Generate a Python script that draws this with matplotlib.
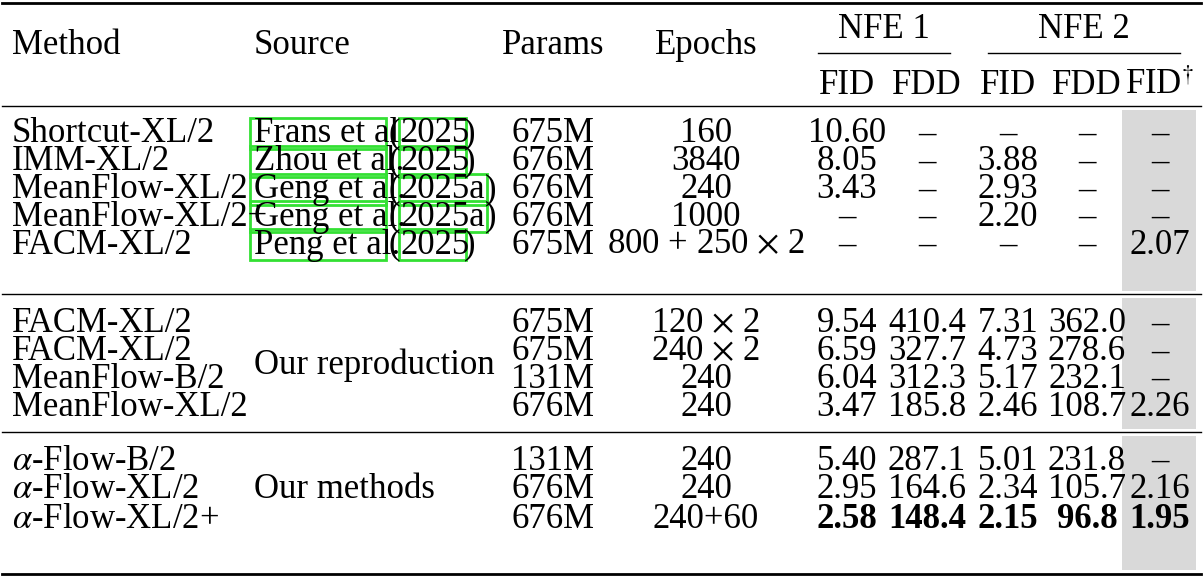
import matplotlib.pyplot as plt
from matplotlib.patches import Rectangle

plt.rcParams['font.family'] = ['Liberation Serif', 'DejaVu Serif']
plt.rcParams['mathtext.fontset'] = 'stix'

methods = ["Shortcut-XL/2", "IMM-XL/2", "MeanFlow-XL/2", "MeanFlow-XL/2+", "FACM-XL/2",
           "FACM-XL/2", "FACM-XL/2", "MeanFlow-B/2", "MeanFlow-XL/2",
           r"$\alpha$-Flow-B/2", r"$\alpha$-Flow-XL/2", r"$\alpha$-Flow-XL/2+"]
cites = [("Frans et al.", "2025"), ("Zhou et al.", "2025"), ("Geng et al.", "2025a"),
         ("Geng et al.", "2025a"), ("Peng et al.", "2025")]
params = ["675M", "676M", "676M", "676M", "675M", "675M", "675M", "131M", "676M",
          "131M", "676M", "676M"]
epochs = ["160", "3840", "240", "1000", r"800 + 250 $\times$ 2", r"120 $\times$ 2",
          r"240 $\times$ 2", "240", "240", "240", "240", "240+60"]
fid1 = ["10.60", "8.05", "3.43", "–", "–", "9.54", "6.59", "6.04", "3.47", "5.40", "2.95", "2.58"]
fdd1 = ["–", "–", "–", "–", "–", "410.4", "327.7", "312.3", "185.8", "287.1", "164.6", "148.4"]
fid2 = ["–", "3.88", "2.93", "2.20", "–", "7.31", "4.73", "5.17", "2.46", "5.01", "2.34", "2.15"]
fdd2 = ["–", "–", "–", "–", "–", "362.0", "278.6", "232.1", "108.7", "231.8", "105.7", "96.8"]
fidd = ["–", "–", "–", "–", "2.07", "–", "–", "–", "2.26", "–", "2.16", "1.95"]

row_y = [134, 162, 190, 217, 245, 324, 352, 379, 407, 461, 489, 519]
fs = 25

fig = plt.figure(figsize=(12.04, 5.79), dpi=100)
ax = fig.add_axes([0, 0, 1, 1])
ax.set_xlim(0, 1204)
ax.set_ylim(579, 0)
ax.axis('off')

# shading for last column
for y0, y1 in [(110, 291), (298, 429), (436, 570)]:
    ax.add_patch(Rectangle((1122, y0), 74, y1 - y0, color='#d9d9d9', lw=0))

# rules
ax.plot([2, 1201], [3, 3], color='k', lw=2)
ax.plot([2, 1201], [106, 106], color='k', lw=1)
ax.plot([2, 1201], [294, 294], color='k', lw=1)
ax.plot([2, 1201], [432, 432], color='k', lw=1)
ax.plot([2, 1201], [574, 574], color='k', lw=2)
ax.plot([818, 950], [53, 53], color='k', lw=1)
ax.plot([988, 1180], [53, 53], color='k', lw=1)

kw = dict(fontsize=fs, va='center')
ax.text(12, 46, "Method", ha='left', **kw)
ax.text(254, 46, "Source", ha='left', **kw)
ax.text(553, 46, "Params", ha='center', **kw)
ax.text(706, 46, "Epochs", ha='center', **kw)
ax.text(884, 29, "NFE 1", ha='center', **kw)
ax.text(1084, 29, "NFE 2", ha='center', **kw)
cols = [847, 927, 1008, 1087, 1160]
for x, h in zip(cols, ["FID", "FDD", "FID", "FDD", r"FID$^{\dagger}$"]):
    ax.text(x, 85, h, ha='center', **kw)

for i, y in enumerate(row_y):
    bold = 'bold' if i == len(row_y) - 1 else 'normal'
    ax.text(12, y, methods[i], ha='left', **kw)
    ax.text(553, y, params[i], ha='center', **kw)
    ax.text(706, y, epochs[i], ha='center', **kw)
    for x, col in zip(cols, [fid1, fdd1, fid2, fdd2, fidd]):
        ax.text(x, y, col[i], ha='center', fontweight=bold, **kw)

for i, (name, year) in enumerate(cites):
    y = row_y[i]
    w2 = 88 if year.endswith('a') else 67
    ax.text(254, y, name, ha='left', **kw)
    ax.text(388, y, "(", ha='left', **kw)
    ax.text(401, y, year, ha='left', **kw)
    ax.text(401 + w2 - 4, y, ")", ha='left', **kw)
    ax.add_patch(Rectangle((250, y - 16), 136, 31, fill=False, ec='#33e033', lw=2))
    ax.add_patch(Rectangle((399, y - 16), w2, 31, fill=False, ec='#33e033', lw=2))

ax.text(254, 365, "Our reproduction", ha='left', **kw)
ax.text(254, 489, "Our methods", ha='left', **kw)

fig.savefig("out.png", dpi=100)
